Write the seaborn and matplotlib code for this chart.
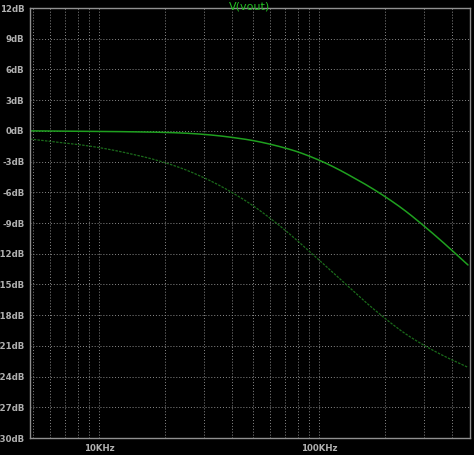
import numpy as np
import pandas as pd
import matplotlib
matplotlib.use("Agg")
import matplotlib.pyplot as plt
import seaborn as sns

freq1 = [4850, 10000, 20000, 30000, 40000, 60000, 100000, 200000, 300000, 475000]
db1 = [0.0, -0.05, -0.13, -0.3, -0.6, -1.2, -2.7, -6.3, -9.2, -13.1]
freq2 = [4850, 10000, 20000, 30000, 40000, 60000, 100000, 200000, 300000, 475000]
db2 = [-0.8, -1.56, -3.0, -4.5, -5.9, -8.4, -12.6, -18.5, -21.1, -23.1]
yticks = list(range(-30, 13, 3))
ylabels = [f"{v}dB" for v in yticks]
xticks = [10000, 100000]
xlabels = ["10KHz", "100KHz"]

def smooth(f, d):
    lf = np.log10(f)
    x = np.linspace(lf[0], lf[-1], 400)
    y = np.interp(x, lf, d)
    n = 25
    # extrapolate linearly at the ends before smoothing
    dx = x[1] - x[0]
    s0 = (y[1] - y[0]); s1 = (y[-1] - y[-2])
    pre = y[0] - s0 * np.arange(n, 0, -1)
    post = y[-1] + s1 * np.arange(1, n + 1)
    yy = np.concatenate([pre, y, post])
    k = np.ones(2 * n + 1) / (2 * n + 1)
    ys = np.convolve(yy, k, mode="valid")
    return 10 ** x, ys

f1, y1 = smooth(freq1, db1)
f2, y2 = smooth(freq2, db2)
df = pd.concat([
    pd.DataFrame({"f": f1, "db": y1, "s": "a"}),
    pd.DataFrame({"f": f2, "db": y2, "s": "b"}),
])

sns.set_style("dark")
fig = plt.figure(figsize=(4.74, 4.55), dpi=100, facecolor="black")
ax = fig.add_axes([30/474, 17/455, 440/474, 430/455])
ax.set_facecolor("black")
sns.lineplot(data=df[df.s == "a"], x="f", y="db", ax=ax, color="#1fa01f", lw=1.1)
sns.lineplot(data=df[df.s == "b"], x="f", y="db", ax=ax, color="#1b6b1b", lw=0.9, linestyle=(0, (2, 1)))
ax.set_xscale("log")
ax.set_xlim(4850, 485000)
ax.set_ylim(-30, 12)
ax.set_yticks(yticks)
ax.set_yticklabels(ylabels)
ax.set_xticks(xticks)
ax.set_xticklabels(xlabels)
ax.xaxis.set_minor_locator(matplotlib.ticker.LogLocator(base=10, subs=range(2, 10)))
ax.xaxis.set_minor_formatter(matplotlib.ticker.NullFormatter())
ax.grid(True, which="both", color="#8a8a8a", linestyle=(0, (1, 2)), lw=0.7)
ax.tick_params(colors="#b0b0b0", labelsize=6.2, length=3, width=0.8, which="both", direction="out", pad=1)
ax.tick_params(axis="x", which="minor", length=0)
for lab in ax.get_yticklabels() + ax.get_xticklabels():
    lab.set_fontweight("bold")
for s in ax.spines.values():
    s.set_color("#909090")
    s.set_linewidth(1)
ax.set_xlabel("")
ax.set_ylabel("")
ax.set_title("V(vout)", color="#22c022", fontsize=8, pad=-1, y=1.0)
fig.savefig("out.png", facecolor="black")
